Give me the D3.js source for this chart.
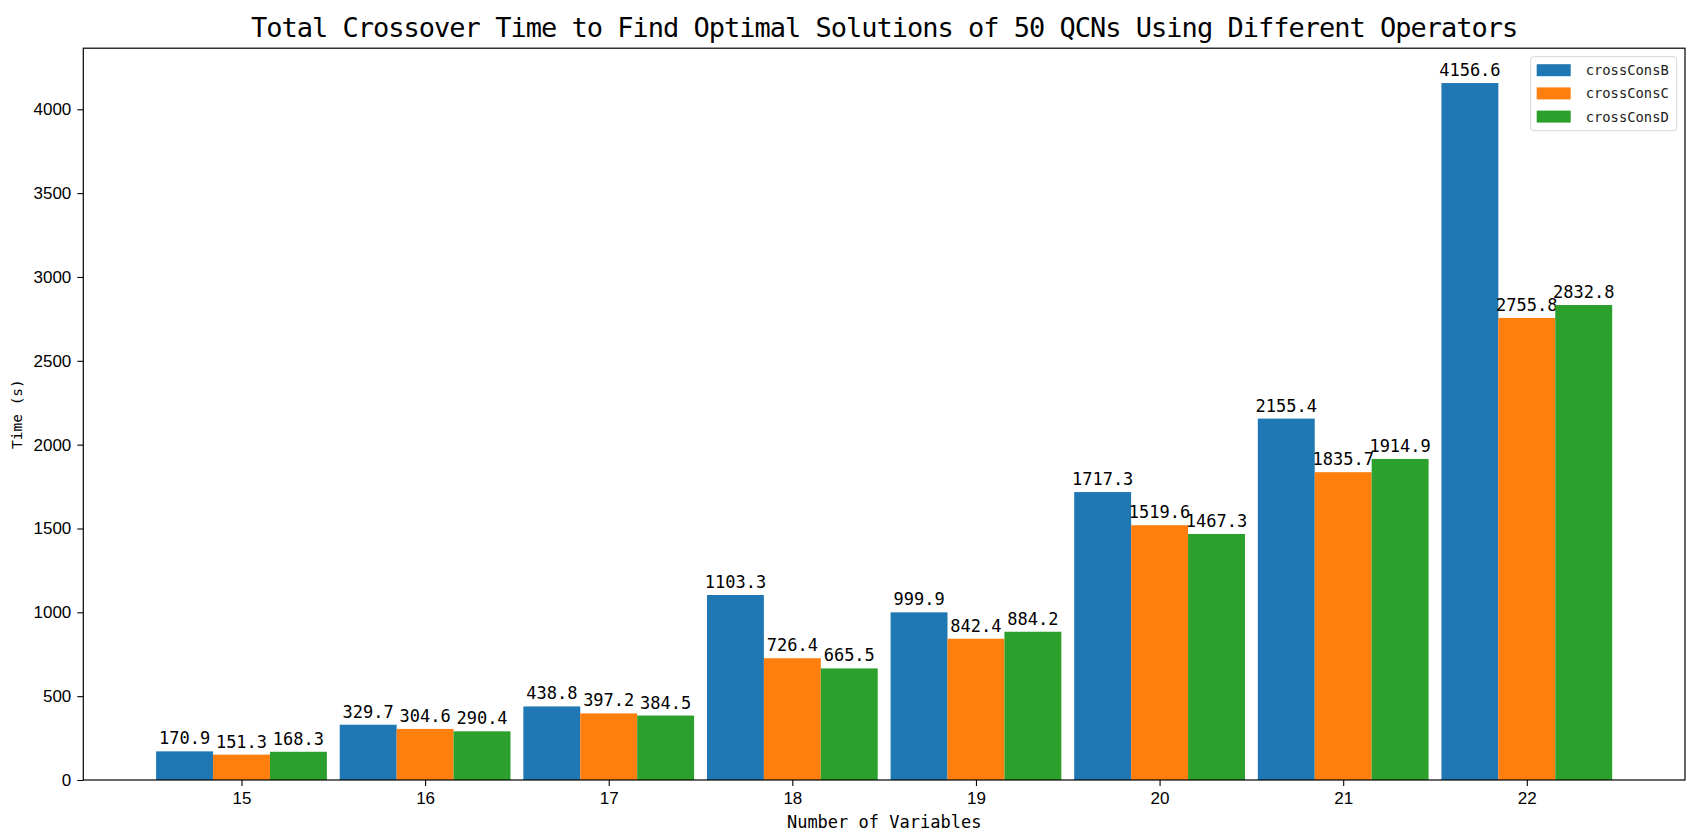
<!DOCTYPE html>
<html>
<head>
<meta charset="utf-8">
<script src="https://cdn.jsdelivr.net/npm/d3@7"></script>
<style>
  html, body { margin: 0; padding: 0; background: #fff; }
  svg { display: block; }
</style>
</head>
<body>
<div id="chart"></div>
<script>
// ---- data ----
const categories = [15, 16, 17, 18, 19, 20, 21, 22];
const seriesNames = ["crossConsB", "crossConsC", "crossConsD"];
const crossConsB = [170.9, 329.7, 438.8, 1103.3, 999.9, 1717.3, 2155.4, 4156.6];
const crossConsC = [151.3, 304.6, 397.2, 726.4, 842.4, 1519.6, 1835.7, 2755.8];
const crossConsD = [168.3, 290.4, 384.5, 665.5, 884.2, 1467.3, 1914.9, 2832.8];
const yTicks = [0, 500, 1000, 1500, 2000, 2500, 3000, 3500, 4000];
const colors = ["#1f77b4", "#ff7f0e", "#2ca02c"];
const titleText = "Total Crossover Time to Find Optimal Solutions of 50 QCNs Using Different Operators";
const xLabel = "Number of Variables";
const yLabel = "Time (s)";

const series = [crossConsB, crossConsC, crossConsD];

// ---- layout ----
const W = 1698, H = 836;
const plot = { left: 83.3, right: 1685, top: 48.2, bottom: 780 };
const barW = 0.31;
const mono = "'DejaVu Sans Mono', 'Liberation Mono', monospace";
const sans = "'Liberation Sans', Arial, sans-serif";

const svg = d3.select("#chart").append("svg")
  .attr("width", W).attr("height", H);

const lo = d3.min(categories) - 1.5 * barW;
const hi = d3.max(categories) + 1.5 * barW;
const pad = 0.05 * (hi - lo);
const x = d3.scaleLinear().domain([lo - pad, hi + pad]).range([plot.left, plot.right]);

const maxV = d3.max(series.flat());
const y = d3.scaleLinear().domain([0, maxV * 1.05]).range([plot.bottom, plot.top]);

// bars
series.forEach((vals, si) => {
  const g = svg.append("g");
  const off = (si - 1) * barW;
  g.selectAll("rect").data(vals).enter().append("rect")
    .attr("x", (d, i) => x(categories[i] + off - barW / 2))
    .attr("width", (d, i) => x(categories[i] + off + barW / 2) - x(categories[i] + off - barW / 2))
    .attr("y", d => y(d))
    .attr("height", d => y(0) - y(d))
    .attr("fill", colors[si]);
  g.selectAll("text").data(vals).enter().append("text")
    .attr("x", (d, i) => x(categories[i] + off))
    .attr("y", d => y(d) - 7)
    .attr("text-anchor", "middle")
    .attr("font-family", mono)
    .attr("font-size", "17px")
    .attr("fill", "#000")
    .text(d => d.toFixed(1));
});

// axes
const yAxis = d3.axisLeft(y).tickValues(yTicks).tickSize(6).tickPadding(6).tickFormat(d3.format("d"));
const xAxis = d3.axisBottom(x).tickValues(categories).tickSize(6).tickPadding(6).tickFormat(d => d);

const ya = svg.append("g").attr("transform", `translate(${plot.left},0)`).call(yAxis);
const xa = svg.append("g").attr("transform", `translate(0,${plot.bottom})`).call(xAxis);
[ya, xa].forEach(a => {
  a.select(".domain").remove();
  a.selectAll(".tick line").attr("stroke", "#000").attr("stroke-width", 1.1);
  a.selectAll(".tick text").attr("font-family", sans).attr("font-size", "17px").attr("fill", "#000");
});

// frame
svg.append("rect")
  .attr("x", plot.left).attr("y", plot.top)
  .attr("width", plot.right - plot.left).attr("height", plot.bottom - plot.top)
  .attr("fill", "none").attr("stroke", "#000").attr("stroke-width", 1.2);

// title
svg.append("text")
  .attr("x", (plot.left + plot.right) / 2).attr("y", 37)
  .attr("text-anchor", "middle")
  .attr("font-family", mono).attr("font-size", "27px").attr("fill", "#000")
  .attr("letter-spacing", "-1px")
  .text(titleText);

// axis labels
svg.append("text")
  .attr("x", (plot.left + plot.right) / 2).attr("y", 828)
  .attr("text-anchor", "middle")
  .attr("font-family", mono).attr("font-size", "17px").attr("fill", "#000")
  .text(xLabel);

svg.append("text")
  .attr("transform", `translate(22,${(plot.top + plot.bottom) / 2}) rotate(-90)`)
  .attr("text-anchor", "middle")
  .attr("font-family", mono).attr("font-size", "14.5px").attr("fill", "#000")
  .text(yLabel);

// legend
const lg = svg.append("g").attr("transform", "translate(1530.7,56.7)");
lg.append("rect")
  .attr("width", 146).attr("height", 74).attr("rx", 3)
  .attr("fill", "#fff").attr("fill-opacity", 0.8)
  .attr("stroke", "#d5d5d5").attr("stroke-width", 1);
seriesNames.forEach((n, i) => {
  lg.append("rect")
    .attr("x", 6).attr("y", 7.5 + i * 23.2)
    .attr("width", 34).attr("height", 12)
    .attr("fill", colors[i]);
  lg.append("text")
    .attr("x", 55).attr("y", 18.5 + i * 23.2)
    .attr("font-family", mono).attr("font-size", "13.8px").attr("fill", "#222")
    .text(n);
});
</script>
</body>
</html>
